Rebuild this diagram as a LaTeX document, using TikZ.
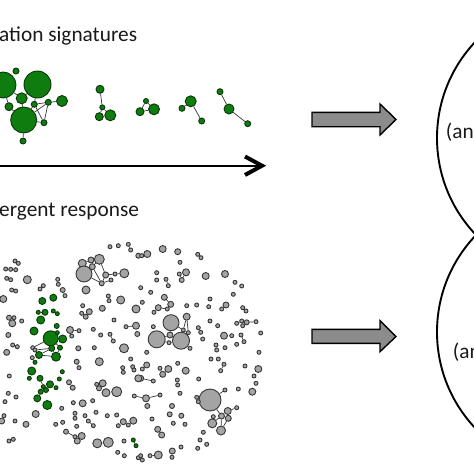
\documentclass[tikz,border=0pt]{standalone}
\usepackage{fontspec}
\setmainfont{Carlito}
\usetikzlibrary{backgrounds}
\definecolor{gfill}{RGB}{14,124,14}
\definecolor{gline}{RGB}{10,55,10}
\definecolor{yfill}{RGB}{164,164,164}
\definecolor{yline}{RGB}{55,55,55}
\definecolor{afill}{RGB}{140,140,140}
\definecolor{txt}{RGB}{25,25,25}
\tikzset{
  gn/.style={circle,draw=gline,fill=gfill,line width=0.9pt,inner sep=0pt},
  yn/.style={circle,draw=yline,fill=yfill,line width=0.9pt,inner sep=0pt},
  edge/.style={draw=yline,line width=0.7pt},
  bigcirc/.style={circle,draw=black,line width=1.9pt,inner sep=0pt,minimum size=280pt},
  lbl/.style={font=\fontsize{21.3}{25}\selectfont,text=txt,inner sep=0pt,anchor=base west},
  blockarrow/.style={draw=black,fill=afill,line width=1.4pt,line join=miter},
}
\begin{document}
\begin{tikzpicture}[x=1pt,y=-1pt]
\useasboundingbox (0,0) rectangle (474,474);
\clip (0,0) rectangle (474,474);
% labels
\node[lbl] (title1) at (-1,41.7) {ation signatures};
\node[lbl] (title2) at (-1,216.7) {ergent response};
% horizontal axis arrow
\coordinate (axs) at (-2,165.7);
\coordinate (axe) at (262,165.7);
\coordinate (cha) at (245,156.5);
\coordinate (chb) at (245,175);
\draw[line width=2pt] (axs) -- (axe);
\draw[line width=4pt,line join=miter] (cha) -- (axe) -- (chb);
% block arrows
\draw[blockarrow] (312,112.3) -- (380,112.3) -- (380,104) -- (396,119.5) -- (380,135) -- (380,126.7) -- (312,126.7) -- cycle;
\draw[blockarrow] (312,329.3) -- (380,329.3) -- (380,320.7) -- (396,336.5) -- (380,351.7) -- (380,343.3) -- (312,343.3) -- cycle;
% big circles
\node[bigcirc] (e1) at (577,138) {};
\node[bigcirc] (e2) at (577,332) {};
\node[lbl] (e1t) at (445.7,138.3) {(an};
\node[lbl] (e2t) at (452.7,358.3) {(an};
% top green networks
\foreach \n/\x/\y/\r in {t1/3/85/13, t2/37.5/84.5/13.5, t3/16/71/3, t4/21.7/98.3/5.5, t5/9/106.7/4, t6/23.7/120/13, t7/34.3/104.3/3, t8/48.3/102.3/3, t9/62/101/5.5, t10/44/122.7/3, t11/23/141/3,
  u1/100/89.3/4, u2/102.3/107.3/2.5, u3/99.3/116.7/4, u4/110.3/115.3/5.5,
  v1/146/101/2.5, v2/140/111.7/4, v3/154/109.3/5.5,
  w1/190.7/101.3/5.5, w2/182/108.3/3, w3/201.7/121/3,
  x1/220/91.7/3, x2/229/109/5, x3/247.7/123.7/3}
  \node[gn,minimum size={2*\r pt}] (\n) at (\x,\y) {};
% lower network: green named
\foreach \n/\x/\y/\r in {g1/34/331/4, g2/50.7/338.3/7.5, g3/62.7/339/4, g6/39/355/3.5, g7/51.7/348.3/3, g8/60/347.7/2.5, g9/56/356.7/4.5, g11/31.7/371/4, g12/62.3/371.7/2, g13/29.3/378.3/2, g14/40/378.3/3, g15/50/384.3/3.5, g16/43.3/386.7/2, g17/46/390/2.5, g18/40.7/391.7/2.5, g19/56/387.7/2, g20/37.3/398.3/3.5, g21/47.3/405/4.5,
  gp1/38.3/312.3/2, gp2/45/312.3/3, gp3/53.3/311/2, gp4/57.3/313.7/2, q1/133.3/440/2, q2/136/445.7/2}
  \node[gn,minimum size={2*\r pt}] (\n) at (\x,\y) {};
\foreach \x/\y/\r [count=\i] in {42.3/301/3.5, 53.3/297.7/3.5, 40.7/320/4, 56.7/326/2.5, 57.3/332.7/2, 35/362.3/2, 59.3/379/2}
  \node[gn,minimum size={2*\r pt}] (h\i) at (\x,\y) {};
% lower network: gray named
\foreach \n/\x/\y/\r in {g4/32.7/347.7/2, g5/35/350/2, g10/32.3/357.7/2,
  a1/82.3/263.3/4, a2/91/260/3, a3/99.3/259.3/5, a4/84/274/8, a5/92.3/266.7/3, a6/105.7/275/3, a7/101.7/283.3/2.5, a8/111/280/2, a9/115/274/2, a10/124.3/273.3/4.5,
  b1/171/322.7/8, b2/186.7/316.7/3.5, b3/156.7/339.3/8.5, b4/181/340.7/8.5, b5/170/335/3, b6/169/342.7/2, b7/183.3/330/2, b8/188.3/332.7/2, b9/153.3/326.7/2,
  c1/210/400/11, c2/225/390/2, c3/227.7/411/3.5, c4/236.7/407.7/2, c5/212.3/423.3/4.5, c6/221.5/416/3, c7/228.3/418.3/3, c8/221/430.5/4.5, c9/213.3/416.7/2,
  p1/128.3/244.3/2, p2/130.7/250/2, p3/15/261/2, p4/18.3/263.3/2, p5/5.7/269/2, p6/10.7/269.3/2, p7/15.7/269.7/2, p8/6.7/278.3/2, p9/10.7/279.7/2,
  p10/57.7/279.3/2, p11/58.3/284.3/2, p12/43.3/285.7/2, p13/40/289/2, p14/62.7/290/2.5, p15/65/295.7/2, p16/11.7/290/2, p17/15.7/291/2,
  p18/108.3/296/2, p19/109/300.7/2, p20/81.7/313.3/2, p21/85.7/316.7/2.5, p22/89.3/311.7/3, p23/9/317.7/2.5, p24/14/317.7/2, p25/12.3/323.3/3.5,
  p26/126/326.7/2, p27/136/325.7/3.5, p28/70/330/3.5, p29/79/330.7/2, p30/110/334.3/2, p31/113.3/341/2, p32/12.7/345/2, p33/17.3/346.7/2,
  p34/76.7/361.7/2.5, p35/79/367.7/2, p36/122.7/367.7/2, p37/123.3/372.3/2, p38/132.7/366.7/2, p39/134/370/2, p40/69/382.3/2.5, p41/72.7/387.7/2.5,
  p42/96.7/384.3/2, p43/99/388.3/2.5, p44/102.7/383.3/3.5, p45/134.3/396/2, p46/146/398.3/3.5, p47/160/395/2, p48/75/413.3/2, p49/75/418.3/2,
  p50/88.3/421/2, p51/93.3/425.7/2, p52/123.3/421.7/3, p53/128.3/425/2, p54/133.3/420.7/3.5, p55/66/431.7/2.5, p56/75/436.7/2, p57/77.3/441/3, p58/81.7/436/3.5,
  p59/9/441/2, p60/13.3/439.3/2, p61/197.7/254.3/2, p62/201/257.7/2, p63/179.3/274/2, p64/186/272.3/3.5, p65/181.7/280/2.5, p66/166/279.3/2, p67/168.3/285.7/2,
  p68/164.3/297.3/3, p69/170.7/304.3/3, p70/167.3/309/2, p71/158.3/307.7/3, p72/154/312.3/2, p73/226/305/3, p74/221.7/309/2, p75/242.7/307.7/2, p76/246/311/2,
  p77/198.3/327.7/2, p78/200.7/332.3/2, p79/236.7/323.3/2, p80/241.7/321/2, p81/242.7/325.7/2, p82/246.7/322.3/2.5, p83/256/321.7/2, p84/241/335/2, p85/244/341.7/2,
  p86/216/345/2, p87/216.7/350/2, p88/146.7/365/3, p89/142.3/369/2, p90/160/368.3/2, p91/162.7/374.3/3, p92/168.3/369/3.5, p93/224/364.3/2, p94/220.7/370.7/2,
  p95/140.7/378.3/3, p96/153.3/381/2, p97/177.3/380/2, p98/177.7/385/2, p99/196.7/397.3/2, p100/198.3/401.7/2, p101/157.7/429.3/3, p102/161.7/435/3,
  p103/172.3/451/3, p104/172/457.3/2, p105/158.3/455/4, p106/150/455.7/2}
  \node[yn,minimum size={2*\r pt}] (\n) at (\x,\y) {};
% lower network: gray isolated
\foreach \x/\y/\r [count=\i] in {110/246.7/2, 118.3/245.7/2, 138.3/255.7/2.5, 27.3/279.7/4, 86/290/4, 3.3/299/3.5, 120.7/300/4, 82.7/305.7/2, 102.3/308.3/3, 136/309/4,
  21.7/321/2, 114/320/2, 93.3/329.3/2, 71.7/336/2, 8.3/335/2.5, 100.7/335/2, 137.3/334/2.5, 78.3/348.3/2.5, 94.3/347.7/2, 124/348.3/4.5, 6.7/352.3/3,
  99.3/361.7/4, 130.7/359/2, 138.3/378.3/3.5, 9.3/376/2, 106/392.7/4, 116.7/391.7/5, 8.3/393.3/2, 16/397/2, 5/401.7/2, 82.7/403.3/3.5, 73.3/402.7/2, 92.7/400.7/2,
  61.7/408.3/2, 35.7/414/3.5, 85/415.7/2, 96/412.3/2, 107.3/415.7/2, 116.7/415/2, 4/415.7/2, 1.7/421/3, 15/421/2, 26/424.3/3, 55.7/424.3/2, 62.7/422.3/2, 76.7/426.3/2,
  118.3/425.7/2, 97.3/443.3/4.5, 108.3/442.3/5, 124/441/2, 117.7/452.3/2, 124.3/455.7/2, 138.3/457.7/2,
  147.3/254/3.5, 141.7/255.7/2, 162.7/249/3.5, 177.7/251.7/3, 180/262.3/2, 156.7/272.7/2, 205.7/276/3.5, 225/274/3.5, 156.7/280/2, 235/282.3/2, 241.7/286/2,
  140.7/287.7/2, 150.7/292.3/2, 233.3/294.3/2, 142.3/302.3/2, 210/299/2, 186.7/305.7/2, 196.7/305/2, 208.7/306.7/2, 210/321/2, 217.7/325.7/2, 202.7/339/2,
  224/335.7/3.5, 231.7/335.7/2, 260.7/333/2, 236.7/344.3/2, 225/347.7/2, 146.7/352.3/2, 259/352.3/2, 190/348.3/2,
  177.7/363.3/2, 185.7/370.7/3.5, 211/359/2, 218.3/359/2, 245/366/2, 258.3/369/3.5, 254/376/2, 256/383.3/2, 252.3/391.7/3.5, 198.7/379/2, 238.3/389/2,
  180/393.3/2, 147.3/406/2.5, 172/406/2.5, 169.7/414.3/2.5, 181.3/415.7/2.5, 152/419/2, 173.3/423.3/2, 185/424.3/2, 203.3/432.3/2, 200/440/2, 206.7/444.3/2,
  197.7/448.3/2, 181/447/2, 142.3/460/2, 140.7/455.7/2}
  \node[yn,minimum size={2*\r pt}] (s\i) at (\x,\y) {};
% edges
\begin{scope}[on background layer]
\foreach \a/\b in {t1/t4, t1/t5, t2/t4, t2/t7, t7/t8, t7/t10, t8/t10, t8/t9, t6/t8, t6/t10, t6/t11, t5/t6, t4/t6, t6/t7,
  u1/u2, u2/u3, u2/u4, u3/u4, v1/v2, v1/v3, v2/v3, w1/w2, w1/w3, x1/x2, x2/x3,
  g4/g2, g5/g7, g4/g6, g6/g7, g6/g9, g7/g9, g8/g9, g2/g8, g2/g7, g14/g16, g16/g15, g17/g15, g18/g17, g16/g17, g18/g20,
  gp1/gp2, gp3/gp4, q1/q2,
  a1/a2, a2/a3, a4/a5, a5/a3, a4/a7, a5/a7, a3/a6, a6/a7, a6/a9, a9/a10, a7/a8,
  b1/b7, b2/b7, b7/b8, b4/b7, b5/b4, b3/b5, b1/b5, b6/b4, b6/b3, b2/b8,
  c1/c2, c1/c6, c6/c5, c6/c8, c7/c8, c3/c7, c3/c4, c9/c5,
  p1/p2, p3/p4, p5/p6, p6/p7, p8/p9, p10/p11, p12/p13, p14/p15, p16/p17, p18/p19, p20/p21, p21/p22, p23/p25, p24/p25,
  p26/p27, p28/p29, p30/p31, p32/p33, p34/p35, p36/p37, p38/p39, p40/p41, p42/p43, p43/p44, p45/p46, p46/p47, p48/p49,
  p50/p51, p52/p53, p53/p54, p55/p56, p56/p57, p56/p58, p59/p60, p61/p62, p63/p65, p64/p65, p66/p67, p68/p69, p69/p70, p70/p71, p71/p72,
  p73/p74, p75/p76, p77/p78, p79/p80, p80/p82, p81/p82, p82/p83, p84/p85, p86/p87, p88/p89, p90/p91, p91/p92, p93/p94,
  p95/p96, p97/p98, p99/p100, p101/p102, p103/p104, p105/p106}
  \draw[edge] (\a) -- (\b);
\end{scope}
\end{tikzpicture}
\end{document}
